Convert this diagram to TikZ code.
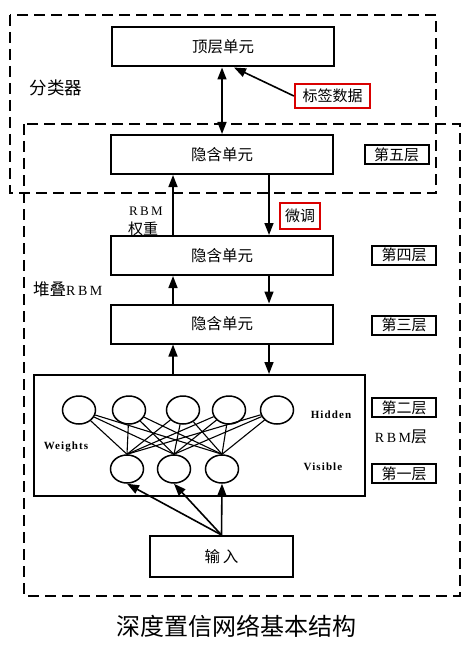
\documentclass[tikz,border=0pt]{standalone}
\usepackage{fontspec}
\setmainfont{Liberation Serif}
\newfontfamily\cjk{Noto Sans CJK SC}
\newfontfamily\rbmfont[LetterSpace=18]{Liberation Serif}
\newfontfamily\smallfont[LetterSpace=10]{Liberation Serif}
\usetikzlibrary{arrows.meta,shapes.geometric}
\begin{document}
\begin{tikzpicture}[x=1pt,y=-1pt,
  unitbox/.style={draw,line width=2pt,minimum width=222pt,minimum height=39pt,inner sep=0pt,font=\cjk\fontsize{15.5}{15.5}\selectfont},
  layerbox/.style={draw,line width=2pt,minimum width=64pt,minimum height=19pt,inner sep=0pt,font=\cjk\fontsize{15}{15}\selectfont},
  redbox/.style={draw=red!85!black,line width=2.2pt,inner sep=0pt,font=\cjk\fontsize{15}{15}\selectfont},
  dashbox/.style={line width=2pt,dash pattern=on 11pt off 6pt},
  arr/.style={line width=1.6pt,-{Triangle[width=9pt,length=12pt]}},
  darr/.style={line width=1.6pt,{Triangle[width=9pt,length=12pt]}-{Triangle[width=9pt,length=12pt]}},
  neuron/.style={draw,ellipse,line width=1.5pt,minimum width=33pt,minimum height=28pt,inner sep=0pt},
  wire/.style={line width=1.1pt},
  eng/.style={font=\smallfont\bfseries\fontsize{11}{11}\selectfont,inner sep=0pt}
]
\useasboundingbox (0,0) rectangle (474,647);
\fill[white] (0,0) rectangle (474,647);
% dashed group boxes
\draw[dashbox] (10,15) rectangle (436,193);
\draw[dashbox] (24,124) rectangle (460,596);
\coordinate (ux) at (173,0);
\coordinate (dx) at (269,0);
% units
\node[unitbox] (top) at (223,47) {顶层单元};
\node[unitbox] (h5) at (222,154.5) {隐含单元};
\node[unitbox] (h4) at (222,255.5) {隐含单元};
\node[unitbox] (h3) at (222,324) {隐含单元};
\node[draw,line width=2pt,minimum width=331pt,minimum height=121pt,inner sep=0pt] (rbm) at (199.5,435.5) {};
\node[draw,line width=2pt,minimum width=143pt,minimum height=41pt,inner sep=0pt,font=\cjk\fontsize{15.5}{15.5}\selectfont] (in) at (221.5,556.5) {输\,入};
% side labels
\node[layerbox] (l5) at (396.5,155) {第五层};
\node[layerbox] (l4) at (404,255) {第四层};
\node[layerbox] (l3) at (404,325) {第三层};
\node[layerbox] (l2) at (404,407.5) {第二层};
\node[layerbox] (l1) at (404,473.5) {第一层};
\node[font=\cjk\fontsize{17.5}{17.5}\selectfont,inner sep=0pt] (cls) at (56,88) {分类器};
\node[anchor=west,inner sep=0pt] (stk) at (33,289) {{\cjk\fontsize{16.5}{16.5}\selectfont 堆叠}{\rbmfont\fontsize{14}{14}\selectfont RBM}};
\node[inner sep=0pt] (rbml) at (401,437) {{\rbmfont\fontsize{14}{14}\selectfont RBM}{\cjk\fontsize{16}{16}\selectfont 层}};
\node[inner sep=0pt,font=\rbmfont\fontsize{13}{13}\selectfont] (rbmw) at (146,211) {RBM};
\node[inner sep=0pt,font=\cjk\fontsize{15}{15}\selectfont] (wt) at (143,229) {权重};
% red labels
\node[redbox,minimum width=75pt,minimum height=24pt] (lab) at (332.5,96) {标签数据};
\node[redbox,minimum width=40pt,minimum height=26pt] (ft) at (300,216) {微调};
% arrows
\draw[darr] (top.south -| 222,0) -- (h5.north -| 222,0);
\draw[arr] (lab.west) -- ([xshift=11pt]top.south);
\draw[arr] (h4.north -| ux) -- (h5.south -| ux);
\draw[arr] (h5.south -| dx) -- (h4.north -| dx);
\draw[arr] (h3.north -| ux) -- (h4.south -| ux);
\draw[arr] (h4.south -| dx) -- (h3.north -| dx);
\draw[arr] (rbm.north -| ux) -- (h3.south -| ux);
\draw[arr] (h3.south -| dx) -- (rbm.north -| dx);
% RBM neurons
\foreach \i/\x in {1/79,2/129,3/183,4/229,5/277}{
  \node[neuron] (hn\i) at (\x,410) {};
}
\foreach \j/\x in {1/127,2/174,3/222}{
  \node[neuron] (vn\j) at (\x,469) {};
}
\foreach \i in {1,...,5}{
  \foreach \j in {1,2,3}{
    \draw[wire] (hn\i) -- (vn\j.north);
  }
}
\node[eng] (hid) at (331,415) {Hidden};
\node[eng] (vis) at (323,467) {Visible};
\node[eng] (wts) at (66,447) {Weights};
% input arrows
\draw[arr] (in.north) -- (vn1.south);
\draw[arr] (in.north) -- (vn2.south);
\draw[arr] (in.north) -- (vn3.south);
% caption
\node[font=\cjk\fontsize{24}{24}\selectfont,inner sep=0pt] (cap) at (236,626) {深度置信网络基本结构};
\end{tikzpicture}
\end{document}
